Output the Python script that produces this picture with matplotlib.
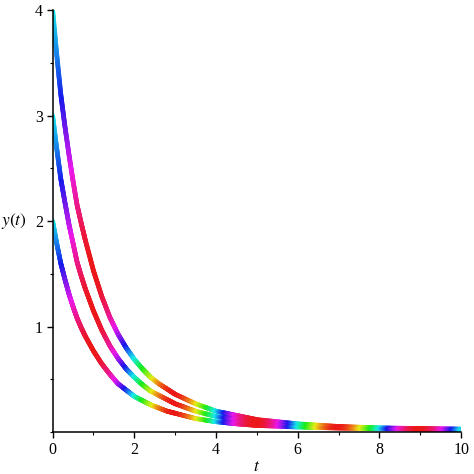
import numpy as np
import matplotlib.pyplot as plt
from matplotlib.collections import LineCollection
from matplotlib.colors import hsv_to_rgb
from matplotlib.ticker import MultipleLocator

# values
t = [0, 0.1, 0.2, 0.3, 0.4, 0.5, 0.6, 0.7, 0.8, 1.0, 1.2, 1.4, 1.6, 1.8, 2.0,
     2.2, 2.4, 2.6, 2.8, 3.0, 3.5, 4, 4.5, 5, 6, 7, 8, 9, 10]
y_from_4 = [4.00, 3.58, 3.20, 2.90, 2.63, 2.38, 2.15, 1.98, 1.82, 1.53, 1.29,
            1.09, 0.93, 0.80, 0.69, 0.60, 0.52, 0.46, 0.41, 0.36, 0.27, 0.20,
            0.16, 0.12, 0.08, 0.055, 0.042, 0.035, 0.03]
y_from_3 = [3.00, 2.69, 2.40, 2.18, 1.97, 1.79, 1.61, 1.48, 1.36, 1.15, 0.97,
            0.82, 0.70, 0.60, 0.52, 0.45, 0.39, 0.35, 0.31, 0.27, 0.20, 0.15,
            0.12, 0.095, 0.065, 0.05, 0.038, 0.032, 0.028]
y_from_2 = [2.00, 1.79, 1.60, 1.45, 1.31, 1.19, 1.08, 0.99, 0.91, 0.77, 0.65,
            0.55, 0.46, 0.40, 0.34, 0.30, 0.26, 0.23, 0.20, 0.18, 0.13, 0.10,
            0.08, 0.065, 0.05, 0.04, 0.033, 0.029, 0.025]

x_ticks = [0, 2, 4, 6, 8, 10]
y_ticks = [1, 2, 3, 4]

plt.rcParams['font.family'] = 'serif'
plt.rcParams['font.serif'] = ['Liberation Serif']
plt.rcParams['mathtext.fontset'] = 'stix'


def rainbow(tt):
    # hue swings back and forth along t (cyan at even t, red at odd t)
    h = (0.5 + 0.5 * np.sin(np.pi * tt / 2)) % 1.0
    hsv = np.stack([h, np.full_like(h, 0.9), np.full_like(h, 0.92)], axis=1)
    return hsv_to_rgb(hsv)


def pieces(tv, yv, n=25):
    # cut every straight piece of the polyline into short bits so the colour can change
    tv = np.asarray(tv, float)
    yv = np.asarray(yv, float)
    segs, mids = [], []
    for i in range(len(tv) - 1):
        f = np.linspace(0, 1, n + 1)
        xs = tv[i] + f * (tv[i + 1] - tv[i])
        ys = yv[i] + f * (yv[i + 1] - yv[i])
        for j in range(n):
            segs.append([(xs[j], ys[j]), (xs[j + 1], ys[j + 1])])
            mids.append(0.5 * (xs[j] + xs[j + 1]))
    return segs, np.array(mids)


fig = plt.figure(figsize=(4.74, 4.74), dpi=100)
ax = fig.add_axes([0.111, 0.088, 0.862, 0.891])

for yv in [y_from_4, y_from_3, y_from_2]:
    segs, mids = pieces(t, yv)
    lc = LineCollection(segs, colors=rainbow(mids), linewidths=3.4,
                        capstyle='round')
    ax.add_collection(lc)

ax.set_xlim(0, 10)
ax.set_ylim(0, 4)
for s in ['top', 'right']:
    ax.spines[s].set_visible(False)
for s in ['left', 'bottom']:
    ax.spines[s].set_linewidth(1.1)

ax.set_xticks(x_ticks)
ax.set_yticks(y_ticks)
ax.xaxis.set_minor_locator(MultipleLocator(1))
ax.yaxis.set_minor_locator(MultipleLocator(0.5))
ax.tick_params(which='major', direction='out', length=4, width=1, labelsize=11.5, pad=3)
ax.tick_params(which='minor', direction='out', length=2.5, width=0.8)

fig.text(0.003, 0.534, '$y(t)$', fontsize=12.5, ha='left', va='center')
fig.text(0.542, 0.015, '$t$', fontsize=12.5, ha='center', va='center')

fig.savefig('out.png', dpi=100)
